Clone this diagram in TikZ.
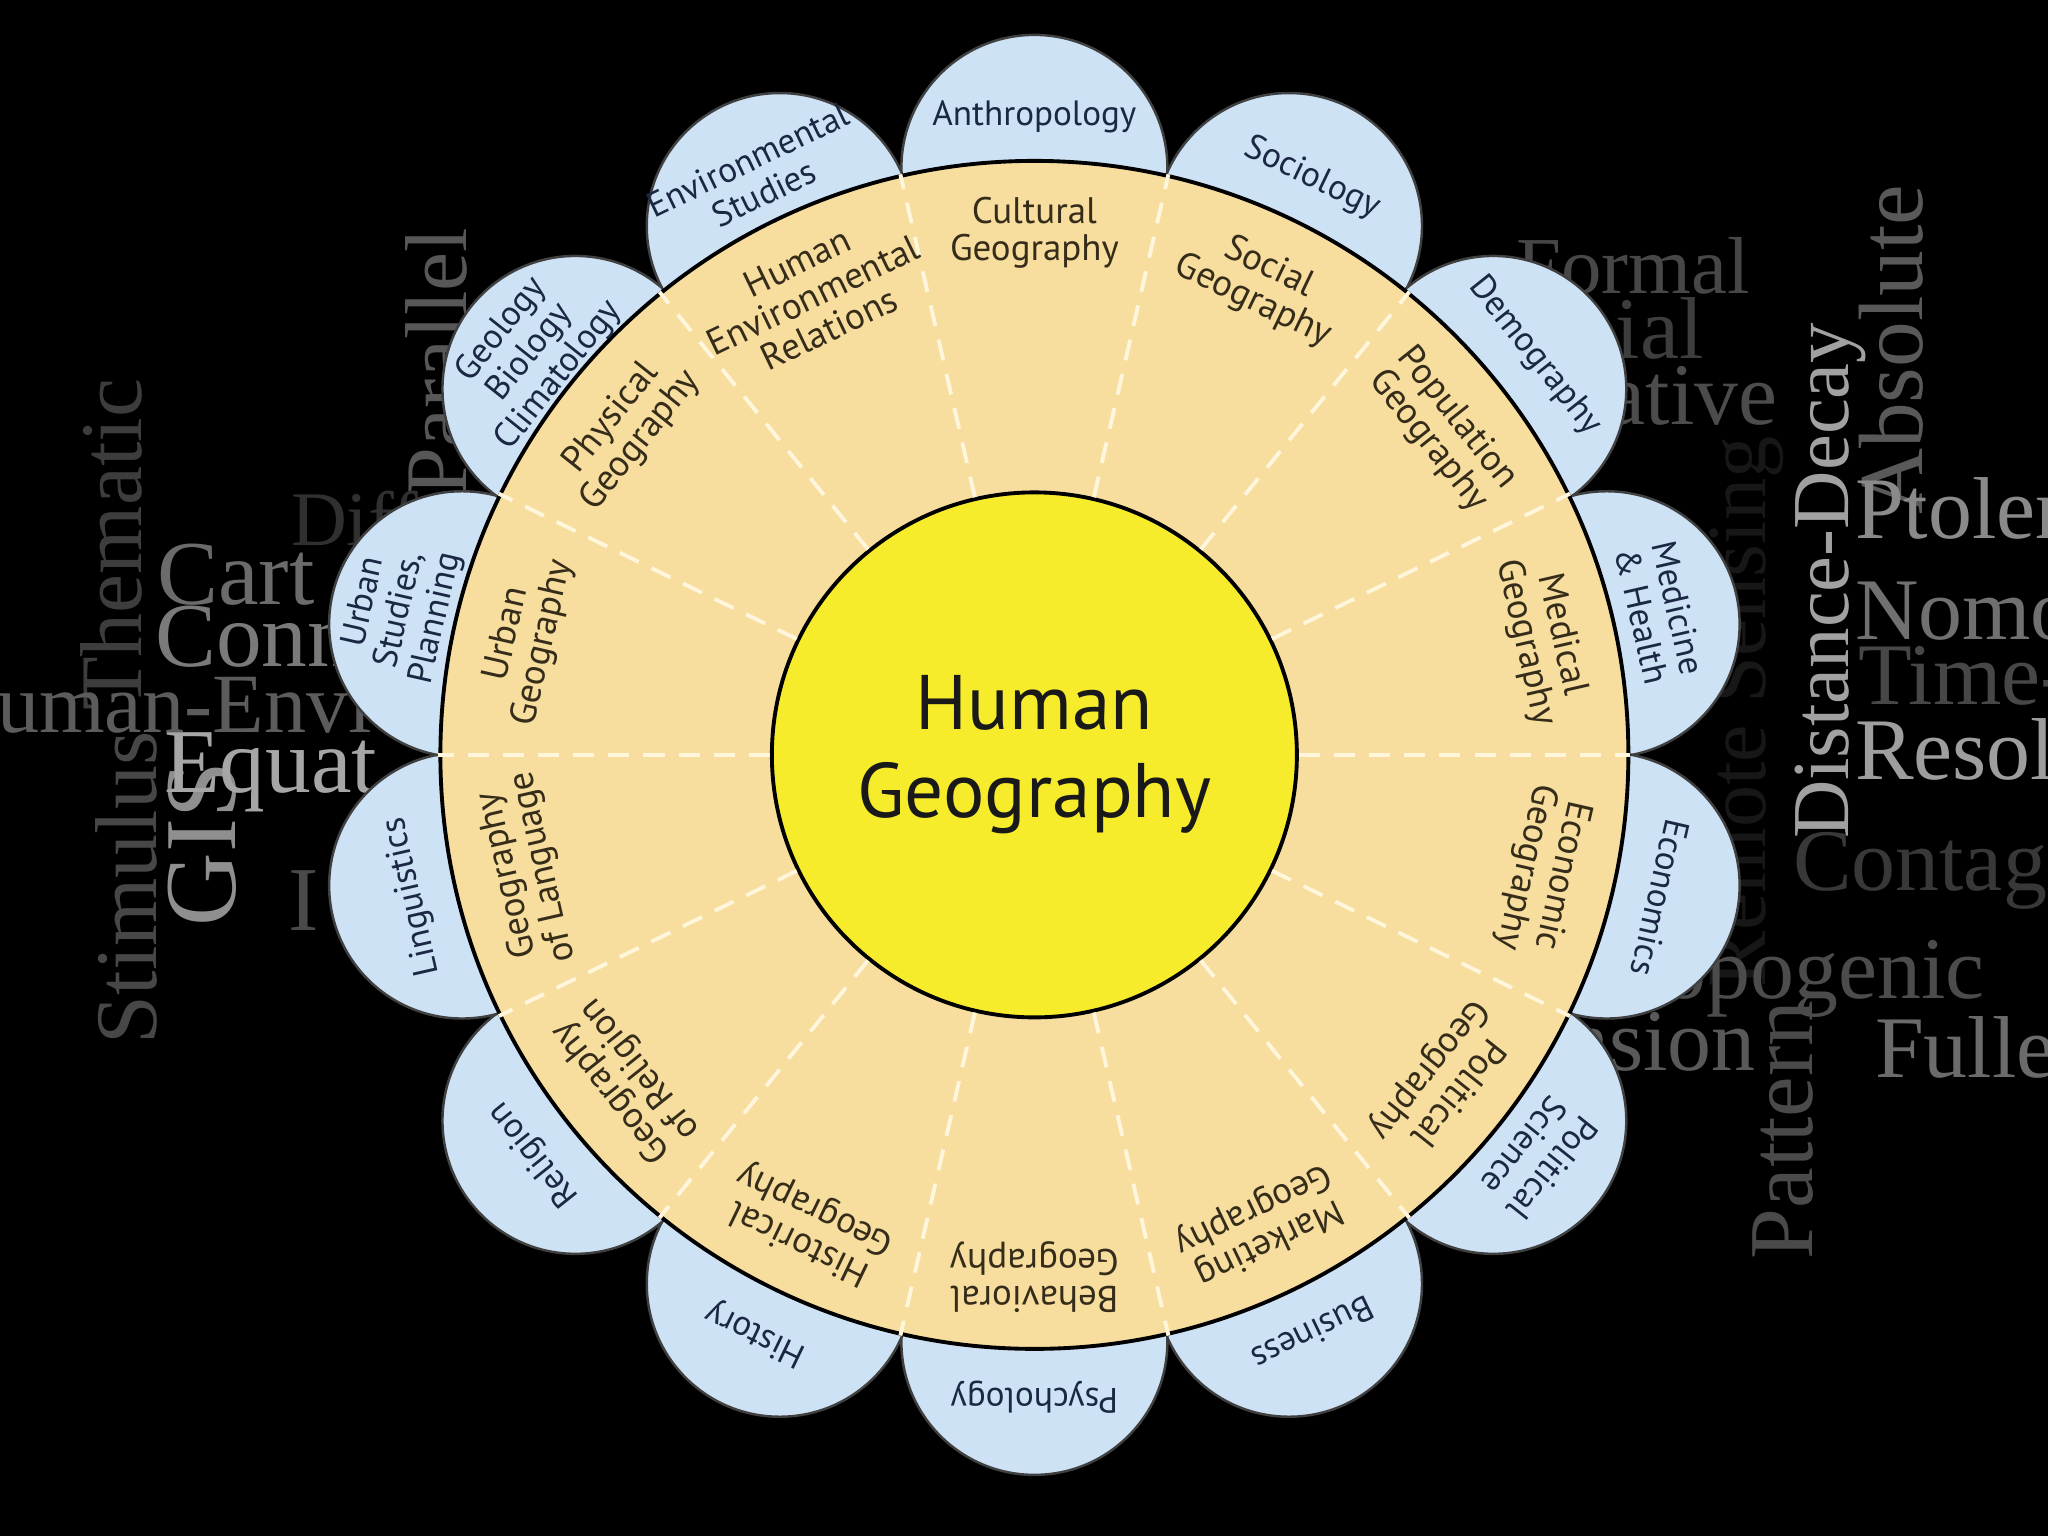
\documentclass[tikz,border=0pt]{standalone}
\usepackage{fontspec}
\setmainfont{PT Sans}
\newfontfamily\bgserif{Liberation Serif}

\definecolor{ringtan}{HTML}{F7DE9F}
\definecolor{hubyellow}{HTML}{F6EC2C}
\definecolor{petalblue}{HTML}{CDE2F5}
\definecolor{petalink}{HTML}{1B2844}
\definecolor{ringink}{HTML}{352C1A}
\definecolor{dashcream}{HTML}{FFF6DC}

\pgfdeclareradialshading{petalshade}{\pgfpoint{0bp}{0bp}}{%
  color(0bp)=(petalblue); color(40bp)=(petalblue);
  color(46bp)=(petalblue!82!black); color(50bp)=(petalblue!35!black)}

\tikzstyle{petal}=[shape=circle,
                   minimum size=2.66cm,
                   shade, shading=petalshade,
                   draw=black!75,
                   line width=0.7pt]
\tikzstyle{ringdisc}=[shape=circle,
                   minimum size=11.88cm,
                   fill=ringtan,
                   draw=black,
                   line width=1.1pt]
\tikzstyle{hub}=[shape=circle,
                   minimum size=5.25cm,
                   fill=hubyellow,
                   draw=black,
                   line width=1.1pt,
                   align=center,
                   text=black!90,
                   font=\fontsize{22}{25}\selectfont]
\tikzstyle{petaltext}=[inner sep=0pt, align=center, text=petalink,
                   font=\fontsize{10}{10.5}\selectfont]
\tikzstyle{ringtext}=[inner sep=0pt, align=center, text=ringink,
                   font=\fontsize{10.5}{10.5}\selectfont]
\tikzstyle{divider}=[draw=dashcream, line width=1.1pt,
                   dash pattern=on 6pt off 4pt]
\tikzstyle{bgword}=[inner sep=0pt, anchor=base west,
                   font=\bgserif\fontsize{25}{25}\selectfont]
\tikzstyle{bgvert}=[inner sep=0pt, anchor=base, rotate=90,
                   font=\bgserif\fontsize{25}{25}\selectfont]

\begin{document}
\begin{tikzpicture}

% black backdrop
\fill[black] (-10.344,-7.811) rectangle (10.136,7.549);
\useasboundingbox (-10.344,-7.811) rectangle (10.136,7.549);

% faded words behind the flower (left)
\node[bgvert, text=white!24!black] (w-thematic) at (-8.93,2.10)  {Thematic};
\node[bgvert, text=white!28!black] (w-stimulus) at (-8.78,-1.33) {Stimulus};
\node[bgvert, text=white!56!black, font=\bgserif\fontsize{29}{29}\selectfont] (w-gis) at (-7.99,-0.89) {GIS};
\node[bgvert, text=white!34!black] (w-parallel) at (-5.68,3.93)  {Parallel};
\node[bgword, text=white!19!black, font=\bgserif\fontsize{22}{22}\selectfont] (w-diff) at (-7.44,2.09) {Diff};
\node[bgword, text=white!42!black, font=\bgserif\fontsize{26}{26}\selectfont] (w-cart) at (-8.78,1.50) {Cart};
\node[bgword, text=white!48!black, font=\bgserif\fontsize{26}{26}\selectfont] (w-conn) at (-8.80,0.88) {Conn};
\node[bgword, text=white!36!black, font=\bgserif\fontsize{24}{24}\selectfont] (w-humenv) at (-10.38,0.22) {uman-Envi};
\node[bgword, text=white!65!black, font=\bgserif\fontsize{26}{26}\selectfont] (w-equat) at (-8.71,-0.38) {Equat};
\node[bgword, text=white!29!black, font=\bgserif\fontsize{26}{26}\selectfont] (w-i) at (-7.47,-1.76) {I};

% faded words behind the flower (right)
\node[bgword, text=white!28!black, font=\bgserif\fontsize{23}{23}\selectfont] (w-formal) at (4.81,4.61) {Formal};
\node[bgword, text=white!24!black, anchor=base east] (w-ial)   at (6.70,3.96) {ial};
\node[bgword, text=white!30!black, anchor=base east] (w-ative) at (7.44,3.30) {ative};
\node[bgvert, text=white!35!black, font=\bgserif\fontsize{26}{26}\selectfont] (w-absolute) at (8.88,4.05) {Absolute};
\node[bgvert, text=white!63!black, font=\bgserif\fontsize{23}{23}\selectfont] (w-distdecay) at (8.14,1.74) {Distance-Decay};
\node[bgvert, text=white!9!black, font=\bgserif\fontsize{24}{24}\selectfont] (w-remote) at (7.31,0.43) {Remote Sensing};
\node[bgword, text=white!54!black] (w-ptolem) at (8.20,2.16)  {Ptolem};
\node[bgword, text=white!44!black] (w-nomo)   at (8.20,1.15)  {Nomo};
\node[bgword, text=white!28!black] (w-time)   at (8.23,0.50)  {Time-};
\node[bgword, text=white!62!black] (w-resolu) at (8.20,-0.25) {Resolu};
\node[bgword, text=white!22!black] (w-contag) at (7.58,-1.36) {Contagi};
\node[bgword, text=white!30!black, anchor=base east] (w-opogen) at (9.51,-2.44) {opogenic};
\node[bgword, text=white!35!black, anchor=base east] (w-nsion)  at (7.22,-3.16) {nsion};
\node[bgword, text=white!42!black] (w-fuller) at (8.40,-3.23) {Fuller};
\node[bgvert, text=white!29!black, font=\bgserif\fontsize{26}{26}\selectfont] (w-pattern) at (7.78,-3.75) {Pattern};

% petals (related disciplines)
\node[petal] (anthro)  at (90:5.87)      {};
\node[petal] (socio)   at (64.29:5.87)   {};
\node[petal] (demog)   at (38.57:5.87)   {};
\node[petal] (medic)   at (12.86:5.87)   {};
\node[petal] (econ)    at (-12.86:5.87)  {};
\node[petal] (polisci) at (-38.57:5.87)  {};
\node[petal] (busi)    at (-64.29:5.87)  {};
\node[petal] (psych)   at (-90:5.87)     {};
\node[petal] (hist)    at (-115.71:5.87) {};
\node[petal] (relig)   at (-141.43:5.87) {};
\node[petal] (ling)    at (-167.14:5.87) {};
\node[petal] (urbst)   at (167.14:5.87)  {};
\node[petal] (geobio)  at (141.43:5.87)  {};
\node[petal] (envst)   at (115.71:5.87)  {};

% ring of sub-fields and the hub
\node[ringdisc] (ring) at (0,0) {};
\node[hub] (hub) at (0,0) {Human\\Geography};

% dashed dividers between hub and ring
\path[divider] (hub.77)   edge (ring.77)
               (hub.51)   edge (ring.51)
               (hub.26)   edge (ring.26)
               (hub.0)    edge (ring.0)
               (hub.-26)  edge (ring.-26)
               (hub.-51)  edge (ring.-51)
               (hub.-77)  edge (ring.-77)
               (hub.-103) edge (ring.-103)
               (hub.-129) edge (ring.-129)
               (hub.-154) edge (ring.-154)
               (hub.180)  edge (ring.180)
               (hub.154)  edge (ring.154)
               (hub.129)  edge (ring.129)
               (hub.103)  edge (ring.103);

% sub-field labels
\node[ringtext, rotate=0]       (cultural) at (90:5.22)      {Cultural\\Geography};
\node[ringtext, rotate=-25.71]  (social)   at (64.29:5.22)   {Social\\Geography};
\node[ringtext, rotate=-51.43]  (popul)    at (38.57:5.22)   {Population\\Geography};
\node[ringtext, rotate=-77.14]  (medgeo)   at (12.86:5.22)   {Medical\\Geography};
\node[ringtext, rotate=-102.86] (econgeo)  at (-12.86:5.22)  {Economic\\Geography};
\node[ringtext, rotate=-128.57] (polgeo)   at (-38.57:5.22)  {Political\\Geography};
\node[ringtext, rotate=-154.29] (market)   at (-64.29:5.22)  {Marketing\\Geography};
\node[ringtext, rotate=-180]    (behav)    at (-90:5.22)     {Behavioral\\Geography};
\node[ringtext, rotate=-205.71] (histgeo)  at (-115.71:5.22) {Historical\\Geography};
\node[ringtext, rotate=-231.43] (religeo)  at (-141.43:5.22) {Geography\\of Religion};
\node[ringtext, rotate=-257.14] (langgeo)  at (-167.14:5.22) {Geography\\of Language};
\node[ringtext, rotate=77.14]   (urbgeo)   at (167.14:5.22)  {Urban\\Geography};
\node[ringtext, rotate=51.43]   (physgeo)  at (141.43:5.22)  {Physical\\Geography};
\node[ringtext, rotate=25.71]   (humenv)   at (115.71:5.10)  {Human\\Environmental\\Relations};

% petal labels
\node[petaltext, rotate=0]       (anthro-t)  at (90:6.38)      {Anthropology};
\node[petaltext, rotate=-25.71]  (socio-t)   at (64.29:6.40)   {Sociology};
\node[petaltext, rotate=-51.43]  (demog-t)   at (38.57:6.40)   {Demography};
\node[petaltext, rotate=-77.14]  (medic-t)   at (12.86:6.42)   {Medicine\\\& Health};
\node[petaltext, rotate=-102.86] (econ-t)    at (-12.86:6.42)  {Economics};
\node[petaltext, rotate=-128.57] (polisci-t) at (-38.57:6.45)  {Political\\Science};
\node[petaltext, rotate=-154.29] (busi-t)    at (-64.29:6.42)  {Business};
\node[petaltext, rotate=-180]    (psych-t)   at (-90:6.42)     {Psychology};
\node[petaltext, rotate=-205.71] (hist-t)    at (-115.71:6.42) {History};
\node[petaltext, rotate=-231.43] (relig-t)   at (-141.43:6.40) {Religion};
\node[petaltext, rotate=-257.14] (ling-t)    at (-167.14:6.38) {Linguistics};
\node[petaltext, rotate=77.14]   (urbst-t)   at (167.14:6.50)  {Urban\\Studies,\\Planning};
\node[petaltext, rotate=51.43]   (geobio-t)  at (141.43:6.45)  {Geology\\Biology\\Climatology};
\node[petaltext, rotate=25.71]   (envst-t)   at (115.71:6.42)  {Environmental\\Studies};

\end{tikzpicture}
\end{document}
